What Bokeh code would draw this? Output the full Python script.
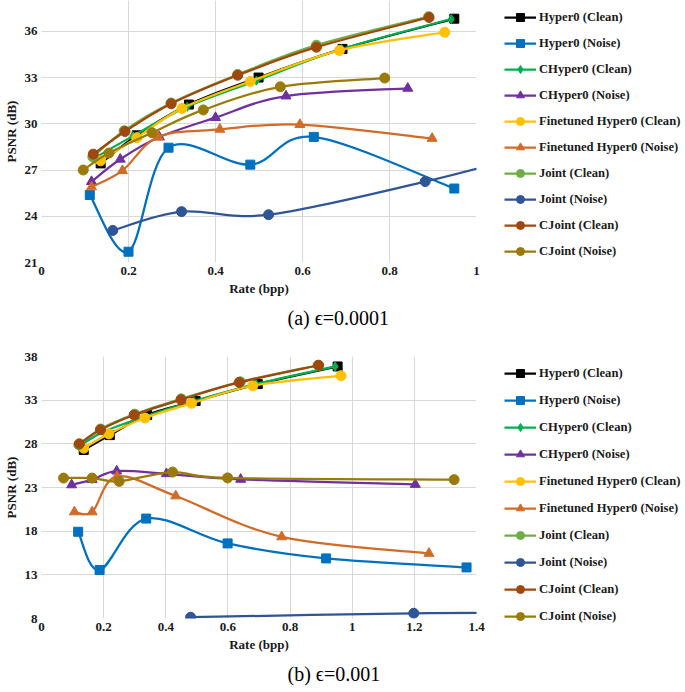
from bokeh.plotting import figure
from bokeh.models import Legend, LegendItem, FixedTicker, NumeralTickFormatter, Title, Range1d
from bokeh.layouts import column
from bokeh.embed import file_html
from bokeh.resources import INLINE

series_names = ["Hyper0 (Clean)", "Hyper0 (Noise)", "CHyper0 (Clean)", "CHyper0 (Noise)",
                "Finetuned Hyper0 (Clean)", "Finetuned Hyper0 (Noise)", "Joint (Clean)",
                "Joint (Noise)", "CJoint (Clean)", "CJoint (Noise)"]
colors = ["#000000", "#0070C0", "#00B050", "#7030A0", "#FFC000", "#D26B27",
          "#70AD47", "#2F5597", "#9E480E", "#9A7B0A"]
markers = ["square", "square", "diamond", "triangle", "circle", "triangle",
           "circle", "circle", "circle", "circle"]
marker_sizes = [9, 9, 9, 10, 10, 10, 10, 10, 10, 10]

# ---- (a) eps = 0.0001 ----
a_x_ticks = [0, 0.2, 0.4, 0.6, 0.8, 1.0]
a_y_ticks = [21, 24, 27, 30, 33, 36]
a_hyper0_clean_x = [0.136, 0.219, 0.339, 0.499, 0.692, 0.949]
a_hyper0_clean_y = [27.43, 29.25, 31.25, 33.0, 34.86, 36.82]
a_hyper0_noise_x = [0.111, 0.2, 0.292, 0.48, 0.626, 0.949]
a_hyper0_noise_y = [25.38, 21.7, 28.45, 27.35, 29.15, 25.8]
a_chyper0_clean_x = [0.12, 0.21, 0.335, 0.494, 0.69, 0.942]
a_chyper0_clean_y = [27.75, 29.2, 31.1, 32.8, 34.85, 36.8]
a_chyper0_noise_x = [0.115, 0.181, 0.271, 0.4, 0.562, 0.842]
a_chyper0_noise_y = [26.25, 27.7, 29.14, 30.4, 31.8, 32.3]
a_ft_clean_x = [0.136, 0.219, 0.323, 0.48, 0.685, 0.927]
a_ft_clean_y = [27.6, 29.1, 31.0, 32.75, 34.76, 35.94]
a_ft_noise_x = [0.115, 0.186, 0.268, 0.41, 0.594, 0.898]
a_ft_noise_y = [25.9, 26.96, 29.14, 29.64, 29.95, 29.05]
a_joint_clean_x = [0.118, 0.19, 0.298, 0.451, 0.632, 0.89]
a_joint_clean_y = [27.85, 29.55, 31.35, 33.2, 35.1, 36.95]
a_joint_noise_x = [0.164, 0.322, 0.522, 0.882, 1.2]
a_joint_noise_y = [23.08, 24.3, 24.1, 26.25, 28.6]
a_cjoint_clean_x = [0.119, 0.192, 0.298, 0.451, 0.632, 0.891]
a_cjoint_clean_y = [28.03, 29.5, 31.3, 33.15, 34.97, 36.9]
a_cjoint_noise_x = [0.096, 0.155, 0.254, 0.372, 0.549, 0.789]
a_cjoint_noise_y = [27.0, 28.1, 29.42, 30.9, 32.4, 32.97]

# ---- (b) eps = 0.001 ----
b_x_ticks = [0, 0.2, 0.4, 0.6, 0.8, 1.0, 1.2, 1.4]
b_y_ticks = [8, 13, 18, 23, 28, 33, 38]
b_hyper0_clean_x = [0.136, 0.22, 0.34, 0.496, 0.696, 0.953]
b_hyper0_clean_y = [27.3, 29.0, 31.3, 32.9, 34.84, 36.86]
b_hyper0_noise_x = [0.118, 0.187, 0.337, 0.599, 0.916, 1.368]
b_hyper0_noise_y = [17.93, 13.55, 19.44, 16.6, 14.88, 13.85]
b_chyper0_clean_x = [0.12, 0.2, 0.33, 0.49, 0.69, 0.945]
b_chyper0_clean_y = [27.7, 29.4, 31.1, 32.9, 34.85, 36.86]
b_chyper0_noise_x = [0.097, 0.163, 0.242, 0.402, 0.641, 1.203]
b_chyper0_noise_y = [23.3, 23.9, 24.88, 24.57, 23.93, 23.35]
b_ft_clean_x = [0.136, 0.217, 0.333, 0.483, 0.68, 0.964]
b_ft_clean_y = [27.5, 29.14, 30.96, 32.64, 34.65, 35.8]
b_ft_noise_x = [0.106, 0.163, 0.243, 0.432, 0.773, 1.247]
b_ft_noise_y = [20.2, 20.2, 24.27, 22.03, 17.35, 15.45]
b_joint_clean_x = [0.12, 0.19, 0.3, 0.45, 0.64, 0.89]
b_joint_clean_y = [27.9, 29.7, 31.4, 33.15, 35.1, 37.0]
b_joint_noise_x = [0.48, 1.198, 1.6]
b_joint_noise_y = [8.15, 8.6, 8.62]
b_cjoint_clean_x = [0.122, 0.19, 0.298, 0.449, 0.636, 0.892]
b_cjoint_clean_y = [28.0, 29.6, 31.3, 33.05, 35.03, 37.0]
b_cjoint_noise_x = [0.071, 0.163, 0.25, 0.422, 0.599, 1.328]
b_cjoint_noise_y = [24.08, 24.08, 23.7, 24.77, 24.1, 23.9]

a_series = [(a_hyper0_clean_x, a_hyper0_clean_y), (a_hyper0_noise_x, a_hyper0_noise_y),
            (a_chyper0_clean_x, a_chyper0_clean_y), (a_chyper0_noise_x, a_chyper0_noise_y),
            (a_ft_clean_x, a_ft_clean_y), (a_ft_noise_x, a_ft_noise_y),
            (a_joint_clean_x, a_joint_clean_y), (a_joint_noise_x, a_joint_noise_y),
            (a_cjoint_clean_x, a_cjoint_clean_y), (a_cjoint_noise_x, a_cjoint_noise_y)]
b_series = [(b_hyper0_clean_x, b_hyper0_clean_y), (b_hyper0_noise_x, b_hyper0_noise_y),
            (b_chyper0_clean_x, b_chyper0_clean_y), (b_chyper0_noise_x, b_chyper0_noise_y),
            (b_ft_clean_x, b_ft_clean_y), (b_ft_noise_x, b_ft_noise_y),
            (b_joint_clean_x, b_joint_clean_y), (b_joint_noise_x, b_joint_noise_y),
            (b_cjoint_clean_x, b_cjoint_clean_y), (b_cjoint_noise_x, b_cjoint_noise_y)]

SERIF = "Liberation Serif"
FRAME_W, FRAME_H = 435, 262
LEG_GAP = 28


def smooth_segments(xs, ys):
    """Bezier segments (Catmull-Rom style smoothing, as in a 'smoothed line' chart)."""
    n = len(xs)
    d = {k: [] for k in ("x0", "y0", "x1", "y1", "cx0", "cy0", "cx1", "cy1")}
    for i in range(n - 1):
        a = max(i - 1, 0)
        b = min(i + 2, n - 1)
        d["x0"].append(xs[i]); d["y0"].append(ys[i])
        d["x1"].append(xs[i + 1]); d["y1"].append(ys[i + 1])
        d["cx0"].append(xs[i] + (xs[i + 1] - xs[a]) / 6.0)
        d["cy0"].append(ys[i] + (ys[i + 1] - ys[a]) / 6.0)
        d["cx1"].append(xs[i + 1] - (xs[b] - xs[i]) / 6.0)
        d["cy1"].append(ys[i + 1] - (ys[b] - ys[i]) / 6.0)
    return d


def build(series, x_end, x_ticks, y_start, y_end, y_ticks, caption, top_border,
          legend_top, leg_spacing):
    p = figure(frame_width=FRAME_W, frame_height=FRAME_H,
               x_range=Range1d(0, x_end), y_range=Range1d(y_start, y_end),
               output_backend="svg", toolbar_location=None,
               min_border_left=33, min_border_right=0,
               min_border_top=top_border, min_border_bottom=0)
    p.outline_line_color = None
    p.grid.grid_line_color = "#D9D9D9"
    p.grid.grid_line_width = 1
    p.xaxis.ticker = FixedTicker(ticks=x_ticks)
    p.yaxis.ticker = FixedTicker(ticks=y_ticks)
    p.xaxis.formatter = NumeralTickFormatter(format="0.[0]")
    p.xaxis.axis_label = "Rate (bpp)"
    p.yaxis.axis_label = "PSNR (dB)"
    for ax in (p.xaxis[0], p.yaxis[0]):
        ax.axis_line_color = None
        ax.major_tick_line_color = None
        ax.minor_tick_line_color = None
        ax.major_tick_out = 0
        ax.major_tick_in = 0
        ax.major_label_text_font = SERIF
        ax.major_label_text_font_style = "bold"
        ax.major_label_text_font_size = "13px"
        ax.major_label_text_color = "#1a1a1a"
        ax.axis_label_text_font = SERIF
        ax.axis_label_text_font_style = "bold"
        ax.axis_label_text_font_size = "13px"
        ax.axis_label_text_color = "#1a1a1a"
        ax.major_label_standoff = 4
        ax.axis_label_standoff = 3

    items = []
    for i, (xs, ys) in enumerate(series):
        seg = smooth_segments(xs, ys)
        br = p.bezier(x0="x0", y0="y0", x1="x1", y1="y1", cx0="cx0", cy0="cy0",
                      cx1="cx1", cy1="cy1", source=seg, line_color=colors[i], line_width=2.25)
        sr = p.scatter(x=xs, y=ys, marker=markers[i], size=marker_sizes[i],
                       fill_color=colors[i], line_color=colors[i])
        items.append(LegendItem(label=series_names[i], renderers=[br, sr]))

    n = len(items)
    leg_h = n * 20 + (n - 1) * leg_spacing
    legend = Legend(items=items, location=(LEG_GAP, FRAME_H - legend_top - leg_h),
                    orientation="vertical", padding=0, margin=LEG_GAP // 2,
                    spacing=leg_spacing,
                    glyph_width=32, glyph_height=20, label_height=20, label_standoff=3,
                    label_text_font=SERIF, label_text_font_style="bold",
                    label_text_font_size="12.6px", label_text_color="#1a1a1a",
                    border_line_color=None, background_fill_alpha=0)
    p.add_layout(legend, "right")

    cap = Title(text=caption, align="left", offset=246, text_font=SERIF,
                text_font_style="normal", text_font_size="20px", text_color="#000000",
                standoff=12)
    p.add_layout(cap, "below")
    return p


p1 = build(a_series, 1.0, a_x_ticks, 21, 38, a_y_ticks, "(a) \u03f5=0.0001", 0, 7, 6)
p2 = build(b_series, 1.4, b_x_ticks, 8, 38, b_y_ticks, "(b) \u03f5=0.001", 22, 7, 7)

layout = column(p1, p2, spacing=0)
open("out.html", "w").write(file_html(layout, INLINE))
